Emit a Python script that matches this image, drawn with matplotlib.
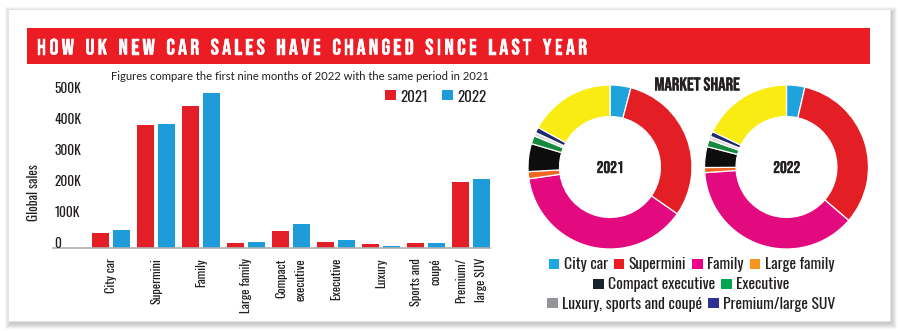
import numpy as np
import matplotlib
matplotlib.use("Agg")
import matplotlib.pyplot as plt
from matplotlib import font_manager as fm
from matplotlib import transforms
from matplotlib import patheffects as pe
from matplotlib.patches import Rectangle

# bar chart: sales in thousands
categories = ["City car", "Supermini", "Family", "Large family", "Compact\nexecutive",
              "Executive", "Luxury", "Sports and\ncoupé", "Premium/\nlarge SUV"]
sales_2021 = [49, 396, 458, 16, 54, 20, 12, 16, 213]
sales_2022 = [58, 400, 501, 20, 78, 26, 6, 16, 223]
ytick_vals = [0, 100, 200, 300, 400, 500]
ytick_labels = ["0", "100K", "200K", "300K", "400K", "500K"]
years = ["2021", "2022"]

# donuts: share in percent, clockwise from 12 o'clock
share_2021 = [4.1, 30.6, 38.0, 1.4, 5.5, 1.6, 0.7, 1.1, 17.0]
share_2022 = [3.6, 32.7, 37.6, 1.0, 4.1, 1.4, 0.7, 1.0, 17.9]
slice_colors = ["#1ea3dc", "#e31e24", "#e3097f", "#f26522", "#0d0d0d",
                "#15893c", "#d9d9d9", "#1f2a6b", "#f9ec12"]

legend_rows = [["City car", "Supermini", "Family", "Large family"],
               ["Compact executive", "Executive"],
               ["Luxury, sports and coupé", "Premium/large SUV"]]
legend_colors = [["#1ca9e1", "#ed1c24", "#ec008c", "#f7941d"],
                 ["#18232b", "#00a651"],
                 ["#939598", "#2e3192"]]

RED = "#e41e26"
BLUE = "#1e9cd9"
INK = "#231f20"

names = {f.name for f in fm.fontManager.ttflist}


def pick(*fams):
    for f in fams:
        if f in names:
            return f
    return "DejaVu Sans"


COND = pick("Oswald", "Roboto Condensed", "Barlow Condensed", "Asap Condensed",
            "Liberation Sans Narrow")
HEAD = pick("Bebas Neue", "Oswald", "Barlow Condensed", "Asap Condensed")
SANS = pick("Lato", "Open Sans")

W, H = 900, 331
fig = plt.figure(figsize=(W / 100, H / 100), dpi=100)
renderer = fig.canvas.get_renderer()


def rect(x0, y0, x1, y1):
    return [x0 / W, 1 - y1 / H, (x1 - x0) / W, (y1 - y0) / H]


def fit(text, width, **kw):
    # font size that makes `text` about `width` pixels wide
    t = fig.text(0, 0, text, fontsize=10, **kw)
    w = t.get_window_extent(renderer).width
    t.remove()
    return 10 * width / w


bg = fig.add_axes([0, 0, 1, 1], zorder=0)
bg.set_xlim(0, W)
bg.set_ylim(H, 0)
bg.axis("off")

# card with soft shadow
for i in range(6):
    bg.add_patch(Rectangle((8 - i + 2, 9 - i + 3), 882 + 2 * i, 312 + 2 * i,
                           color="#000000", alpha=0.035, lw=0))
bg.add_patch(Rectangle((8, 9), 882, 312, facecolor="white", edgecolor="#e4e4e4", lw=0.8))

# banner + letter-spaced title
bg.add_patch(Rectangle((27, 28), 843, 36, color="#ec1c24", lw=0))
title = "HOW UK NEW CAR SALES HAVE CHANGED SINCE LAST YEAR"
bold = [pe.withStroke(linewidth=0.35, foreground="white")]
chars = [bg.text(0, 54.5, c, color="white", fontsize=16, family=HEAD, path_effects=bold,
                 ha="left", va="baseline") for c in title]
widths = [t.get_window_extent(renderer).width if c != " " else 5 for t, c in zip(chars, title)]
track = (587 - 37 - sum(widths)) / (len(title) - 1)
x = 37
for t, w in zip(chars, widths):
    t.set_x(x)
    x += w + track

# subtitle
subtitle = "Figures compare the first nine months of 2022 with the same period in 2021"
bg.text(111, 80, subtitle, fontsize=fit(subtitle, 380, family=SANS), family=SANS,
        color=INK, ha="left", va="baseline")

# bar chart
ax = fig.add_axes(rect(53, 85, 490, 248), zorder=1)
ax.patch.set_visible(False)
x = np.arange(len(categories))
ax.bar(x - 0.233, sales_2021, 0.378, color=RED)
ax.bar(x + 0.233, sales_2022, 0.378, color=BLUE)
ax.set_xlim(-1.29, 8.42)
ax.set_ylim(0, 526)
for s in ["left", "right", "top"]:
    ax.spines[s].set_visible(False)
ax.spines["bottom"].set_color("#b0b0b0")
ax.spines["bottom"].set_linewidth(1.2)
ax.set_xticks([])
ax.set_yticks([])
ytr = transforms.blended_transform_factory(ax.transAxes, ax.transData)
ysize = fit("500K", 27, family=COND)
for v, lab in zip(ytick_vals, ytick_labels):
    ax.text(0.003, v, lab, transform=ytr, ha="left", va="baseline",
            fontsize=ysize, family=COND, color=INK)
csize = fit("Supermini", 46, family=COND)
for i, lab in enumerate(categories):
    ax.annotate(lab, (i, 0), xytext=(0, -10), textcoords="offset pixels",
                rotation=90, ha="center", va="top", multialignment="right",
                linespacing=1.75, fontsize=csize, family=COND, color=INK,
                annotation_clip=False)
bg.text(33, 193, "Global sales", rotation=90, ha="center", va="center",
        fontsize=fit("Global sales", 56, family=COND), family=COND, color=INK)

# bar legend
lsize = fit("2021", 28, family=COND)
for x0, col, lab in [(385, RED, years[0]), (442, BLUE, years[1])]:
    bg.add_patch(Rectangle((x0, 90), 11, 10, color=col, lw=0))
    bg.text(x0 + 15, 101.5, lab, fontsize=lsize, family=COND, color=INK,
            ha="left", va="baseline")

# donuts
bg.text(697, 90.5, "MARKET SHARE", fontsize=fit("MARKET SHARE", 86, family=HEAD),
        family=HEAD, color=INK, ha="center", va="baseline",
        path_effects=[pe.withStroke(linewidth=0.25, foreground=INK)])
ysz = fit("2021", 27, family=HEAD)
for (x0, x1), share, yr in [((528, 692), share_2021, years[0]),
                            ((704.5, 868.5), share_2022, years[1])]:
    dax = fig.add_axes(rect(x0, 85, x1, 249), zorder=1)
    wedges, _ = dax.pie(share, colors=slice_colors, startangle=90, counterclock=False,
                        radius=1, wedgeprops=dict(width=0.385, edgecolor="white", linewidth=0.9))
    for w in wedges:
        w.set_clip_on(False)
    dax.set_xlim(-1, 1)
    dax.set_ylim(-1, 1)
    dax.set_aspect("equal")
    dax.text(0, 0, yr, ha="center", va="center", fontsize=ysz, family=HEAD, color=INK,
             path_effects=[pe.withStroke(linewidth=0.25, foreground=INK)])

# bottom legend, rows centred
gsize = fit("City car", 44, family=COND)
for row, cols, yc in zip(legend_rows, legend_colors, [264, 283.5, 303]):
    texts = [bg.text(0, yc + 5.5, lab, fontsize=gsize, family=COND, color=INK,
                     ha="left", va="baseline") for lab in row]
    ws = [t.get_window_extent(renderer).width for t in texts]
    total = sum(w + 15 for w in ws) + 6 * (len(row) - 1)
    x = 691.5 - total / 2
    for t, w, col in zip(texts, ws, cols):
        bg.add_patch(Rectangle((x, yc - 5), 10.5, 10, color=col, lw=0))
        t.set_x(x + 15)
        x += w + 15 + 6

fig.savefig("out.png", dpi=100, facecolor="white")
